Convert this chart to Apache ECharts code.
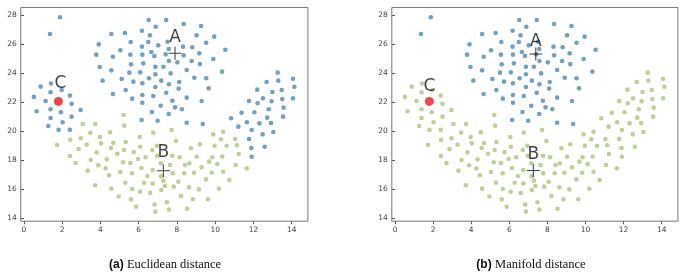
<!DOCTYPE html>
<html><head><meta charset="utf-8">
<script src="https://cdn.jsdelivr.net/npm/echarts@6/dist/echarts.min.js"></script>
<style>html,body{margin:0;padding:0;background:#fff}#c{width:685px;height:276px}</style>
</head><body><div id="c"></div>
<script>
// ---- data ----
const xTicks = [0, 2, 4, 6, 8, 10, 12, 14];
const yTicks = [14, 16, 18, 20, 22, 24, 26, 28];

const outliers = [[1.88,27.84],[1.36,26.69]];

const clusterA = [
[6.52,27.66],[7.44,27.66],[6.89,27.19],[8.35,27.38],[9.26,27.24],
[4.57,26.69],[5.28,26.76],[6.17,26.92],[6.59,26.60],[9.03,26.60],[9.95,26.51],
[3.91,25.98],[5.58,26.14],[6.50,26.14],[7.02,25.91],[7.51,26.16],[8.32,25.82],[8.80,25.78],[9.53,26.09],[10.53,25.61],
[3.78,25.27],[4.65,25.13],[5.04,25.57],[5.56,25.27],[6.17,25.82],[6.19,25.27],[6.66,25.45],[6.82,25.18],[7.41,25.29],[7.57,25.66],[8.35,25.22],[9.17,25.36],[9.90,24.97],
[3.96,24.42],[4.57,24.19],[5.60,24.60],[6.24,24.67],[6.87,24.44],[7.29,24.44],[7.58,24.83],[8.02,24.74],[8.77,24.83],[8.51,24.21],[9.20,24.62],[10.36,24.10],
[4.11,23.48],[5.11,23.59],[5.51,24.03],[5.72,23.41],[6.08,24.05],[6.19,23.30],[6.54,23.64],[6.87,23.92],[7.18,23.48],[7.67,23.98],[7.58,23.23],[8.12,23.39],[8.91,23.68],[9.53,23.64],[9.66,22.95],
[4.65,22.56],[5.32,22.83],[5.66,22.24],[6.19,22.49],[6.19,21.96],[6.76,22.42],[6.87,23.04],[7.44,22.65],[7.76,22.10],[8.09,22.93],[8.26,21.51],[8.51,22.31],[9.29,22.08],[7.15,21.75],[7.90,21.64],[6.69,21.32],[7.57,21.18],[6.15,20.77],[6.99,20.72],[8.51,20.58],[9.35,20.49]
];

const clusterC = [
[0.52,22.36],[0.66,21.37],[0.87,23.07],[1.13,22.08],[1.41,23.28],[1.39,22.68],[1.39,21.51],[1.39,20.91],[1.27,20.36],
[1.97,22.84],[1.93,21.30],[1.81,20.09],[2.02,20.61],[2.40,22.45],[2.49,21.88],[2.49,21.00],[2.40,20.09],[2.96,21.46]
];

const rightArm = [
[13.27,24.03],[14.07,23.61],[12.69,23.39],[13.30,23.48],[14.14,23.06],[12.20,22.86],[12.99,22.70],[13.48,22.84],
[11.77,22.08],[12.22,21.92],[12.50,22.26],[12.95,22.06],[13.51,22.21],[14.07,22.26],
[11.38,21.27],[12.05,21.30],[12.80,21.51],[13.58,21.62],[10.83,20.89],[11.66,20.61],[12.31,20.54],[12.72,20.93],[13.55,21.00],
[11.21,20.31],[11.91,20.08],[12.92,20.56],[12.48,19.78],[13.04,19.94],[11.77,19.46],[12.59,18.93],[11.89,18.84],[11.91,18.24]
];

const greenPoints = [
[1.73,19.05],[2.42,19.41],[2.97,19.51],[3.07,20.49],[3.73,20.49],[3.47,19.89],[4.50,19.92],[3.97,19.60],[3.28,19.07],[4.03,19.16],
[4.67,19.18],[5.32,19.25],[5.21,21.11],[5.25,20.38],[6.05,19.60],[6.76,19.89],[7.72,20.08],[7.95,19.32],[6.95,19.00],[8.73,18.82],[9.20,19.10],
[2.86,18.77],[2.41,18.29],[2.70,17.81],[3.49,18.01],[3.80,18.54],[4.55,18.84],[4.88,18.45],[5.23,18.70],[5.74,18.56],[6.08,18.93],[6.71,18.70],
[4.33,18.06],[3.89,17.65],[3.33,17.28],[4.27,17.44],[4.45,16.96],[5.04,17.19],[5.18,17.86],[5.56,17.81],[5.96,18.08],[6.36,18.20],[6.97,18.31],
[7.76,18.31],[7.64,17.67],[5.65,17.10],[6.14,17.46],[6.45,16.91],[6.73,17.33],[7.15,17.79],[7.17,16.89],[7.29,16.59],[7.37,16.22],[7.18,15.95],
[7.78,17.10],[7.83,16.18],[8.07,16.52],[8.21,15.53],[8.38,17.10],[8.42,17.67],[8.65,17.79],[8.89,17.14],[8.63,16.13],[8.84,15.31],[9.15,15.99],
[9.03,18.24],[8.14,18.20],[9.29,17.51],[9.52,16.68],[9.62,15.31],[9.68,17.90],
[4.95,15.50],[5.60,15.30],[5.86,14.79],[6.83,14.95],[6.87,14.46],[7.58,14.60],[7.47,15.10],[8.53,14.66],
[4.57,16.04],[3.72,16.28],[5.30,16.45],[5.66,16.02],[6.60,15.74],[6.28,16.45],[6.73,16.40],[6.07,15.83],
[9.90,19.78],[10.42,19.96],[9.97,19.00],[10.30,19.44],[10.60,19.00],[11.04,19.46],[11.14,19.03],[11.23,18.43],[9.85,18.20],[10.37,18.26],
[10.11,17.73],[9.82,17.14],[10.42,17.21],[11.07,17.67],[11.65,17.44],[10.74,16.63],[10.20,16.03]
];

const pointC = [1.80, 22.05];
const crossA1 = [7.90, 25.36];
const crossB1 = [7.29, 17.28];
const crossA2 = [7.39, 25.32];
const crossB2 = [7.26, 17.29];

const captionA = ['(a)', 'Euclidean distance'];
const captionB = ['(b)', 'Manifold distance'];

// ---- styling ----
const BLUE = '#5088ae';
const GREEN = '#a9c67c';
const PLUS = 'path://M4.6,0H5.4V4.6H10V5.4H5.4V10H4.6V5.4H0V4.6H4.6Z';

const grids = [
  {left: 20.75, top: 7.45, width: 287.15, height: 213.75, show: true, borderColor: '#777', borderWidth: 1},
  {left: 391.8, top: 7.45, width: 286.1, height: 213.75, show: true, borderColor: '#777', borderWidth: 1}
];

function xAx(i) {
  return {gridIndex: i, type: 'value', min: -0.17, max: 14.85,
    splitLine: {show: false}, axisLine: {show: false},
    axisTick: {show: true, length: 3, lineStyle: {color: '#555'}, customValues: xTicks},
    axisLabel: {fontSize: 7.5, color: '#444', fontFamily: 'DejaVu Sans', margin: 5, customValues: xTicks}};
}
function yAx(i) {
  return {gridIndex: i, type: 'value', min: 13.8, max: 28.52,
    splitLine: {show: false}, axisLine: {show: false},
    axisTick: {show: true, length: 3, lineStyle: {color: '#555'}, customValues: yTicks},
    axisLabel: {fontSize: 7.5, color: '#444', fontFamily: 'DejaVu Sans', margin: 4, customValues: yTicks}};
}

function pts(name, data, color, i) {
  return {type: 'scatter', name: name, xAxisIndex: i, yAxisIndex: i, data: data,
    symbolSize: 4.6, itemStyle: {color: color}, silent: true, animation: false};
}
function lbl(text, dx, dy) {
  return {show: true, position: 'inside', formatter: text, offset: [dx, dy],
    fontSize: 17, color: '#111', fontFamily: 'DejaVu Sans'};
}
function marks(i, a, b, offA, offB, offC) {
  return [
    {type: 'scatter', xAxisIndex: i, yAxisIndex: i, symbol: PLUS, symbolSize: 13,
     itemStyle: {color: '#111'}, animation: false, silent: true, z: 5,
     data: [{value: a, label: lbl('A', offA[0], offA[1])}, {value: b, label: lbl('B', offB[0], offB[1])}]},
    {type: 'scatter', xAxisIndex: i, yAxisIndex: i, symbolSize: 9,
     itemStyle: {color: '#e3191b'}, animation: false, silent: true, z: 6,
     data: [{value: pointC, label: lbl('C', offC[0], offC[1])}]}
  ];
}

const blue1 = clusterA.concat(clusterC, rightArm, outliers);
const green1 = greenPoints;
const blue2 = clusterA.concat(outliers);
const green2 = greenPoints.concat(clusterC, rightArm);

function caption(c, x) {
  return {type: 'text', x: x, y: 265, style: {
    text: '{a|' + c[0] + '} {b|' + c[1] + '}', align: 'center', verticalAlign: 'middle',
    rich: {a: {fontFamily: 'Liberation Sans', fontWeight: 'bold', fontSize: 12, fill: '#111'},
           b: {fontFamily: 'Liberation Serif', fontSize: 12.5, fill: '#111'}}}};
}

const chart = echarts.init(document.getElementById('c'), null, {renderer: 'canvas'});
chart.setOption({
  animation: false,
  backgroundColor: '#fff',
  grid: grids,
  xAxis: [xAx(0), xAx(1)],
  yAxis: [yAx(0), yAx(1)],
  series: [
    pts('blue1', blue1, BLUE, 0), pts('green1', green1, GREEN, 0),
    pts('blue2', blue2, BLUE, 1), pts('green2', green2, GREEN, 1)
  ].concat(marks(0, crossA1, crossB1, [0, -16], [0, -18], [2, -18]),
           marks(1, crossA2, crossB2, [0, -12], [0, -16], [0, -15])),
  graphic: [caption(captionA, 165), caption(captionB, 531)]
});
</script></body></html>
